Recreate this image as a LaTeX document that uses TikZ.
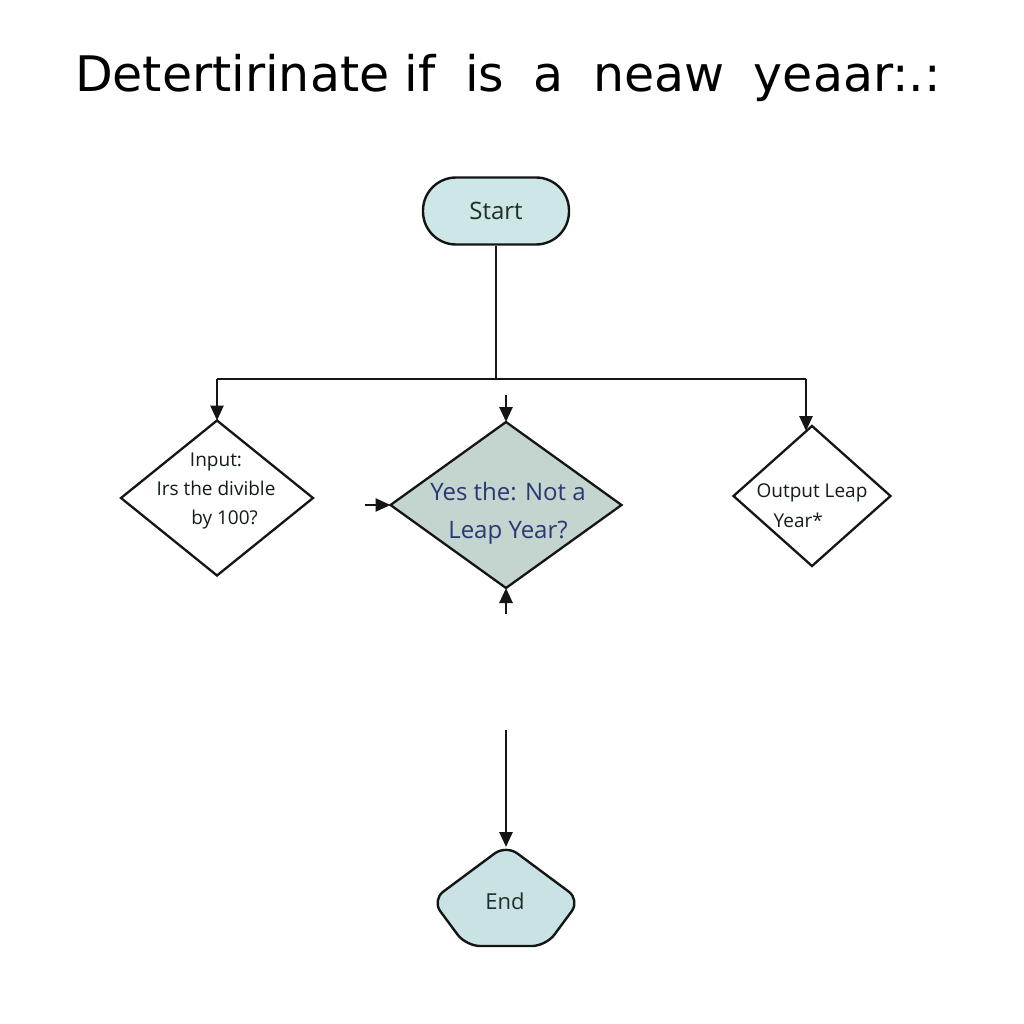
\documentclass[tikz,border=0pt]{standalone}
\usepackage{fontspec}
\setmainfont{Open Sans}
\newfontfamily\titlefont{DejaVu Sans}
\usetikzlibrary{arrows.meta,shapes.geometric}
\definecolor{startfill}{HTML}{CDE6E6}
\definecolor{endfill}{HTML}{C9E3E5}
\definecolor{midfill}{HTML}{C4D4CE}
\definecolor{midtext}{HTML}{2A3775}
\definecolor{darktext}{HTML}{1E2E28}
\definecolor{edge}{HTML}{151515}
\tikzset{
  conn/.style={draw=edge, line width=2.6pt},
  arr/.style={conn, -{Triangle[length=15pt,width=13pt]}},
  dia/.style={draw=edge, line width=2.3pt, shape=diamond, inner sep=0pt, outer sep=0pt},
  lbl/.style={inner sep=0pt, align=center},
}
\begin{document}
\begin{tikzpicture}[x=1pt,y=-1pt]
\useasboundingbox[fill=white] (0,0) rectangle (1024,1024);
% title
\node[anchor=base, inner sep=0pt, font=\titlefont\fontsize{49}{56}\selectfont] (title) at (508,92) {Detertirinate if\hspace{0.6em}is\hspace{0.6em}a\hspace{0.6em}neaw\hspace{0.6em}yeaar:.:};
% start
\node[draw=edge, line width=2.4pt, fill=startfill, rounded corners=33pt, minimum width=146pt, minimum height=67pt, inner sep=0pt, text=darktext, font=\fontsize{24}{28}\selectfont] (start) at (496,211) {Start};
% diamonds
\node[dia, fill=white, minimum width=192pt, minimum height=155pt] (d1) at (217,498) {};
\node[lbl, font=\fontsize{19}{29}\selectfont, text=darktext!60!black] (t1) at (216,491) {Input:\\Irs the divible\\\hspace{0.9em}by 100?};
\node[dia, fill=midfill, minimum width=231pt, minimum height=166pt] (d2) at (506,505) {};
\node[lbl, font=\fontsize{24}{38}\selectfont, text=midtext] (t2) at (508,513) {Yes the: Not a\\Leap Year?};
\node[dia, fill=white, minimum width=157pt, minimum height=140pt] (d3) at (812,496) {};
\node[lbl, align=left, font=\fontsize{19}{30}\selectfont, text=darktext!60!black] (t3) at (812,506) {Output Leap\\\hspace{0.9em}Year*};
% end
\coordinate (endtop) at (506,847);
\path[draw=edge, line width=2.4pt, fill=endfill, rounded corners=14pt]
  (506,845) -- (580,900) -- (546,946) -- (466,946) -- (432,900) -- cycle;
\node[inner sep=0pt, text=darktext, font=\fontsize{22}{26}\selectfont] (end) at (505,901) {End};
% junctions
\coordinate (j) at (start.south |- 0,379);
\coordinate (jl) at (217,379);
\coordinate (jr) at (806,379);
\coordinate (c1) at (d2.north |- 0,395);
\coordinate (c2) at (365,0 |- d2.west);
\coordinate (c3) at (d2.south |- 0,614);
\coordinate (c4) at (506,730);
\coordinate (d3top) at (806,431);
\draw[conn] (start.south) -- (j);
\draw[conn] (jl) -- (jr);
\draw[arr] (jl) -- (d1.north);
\draw[arr] (jr) -- (d3top);
\draw[arr] (c1) -- (d2.north);
\draw[arr] (c2) -- (d2.west);
\draw[arr] (c3) -- (d2.south);
\draw[arr] (c4) -- (endtop);
\end{tikzpicture}
\end{document}
